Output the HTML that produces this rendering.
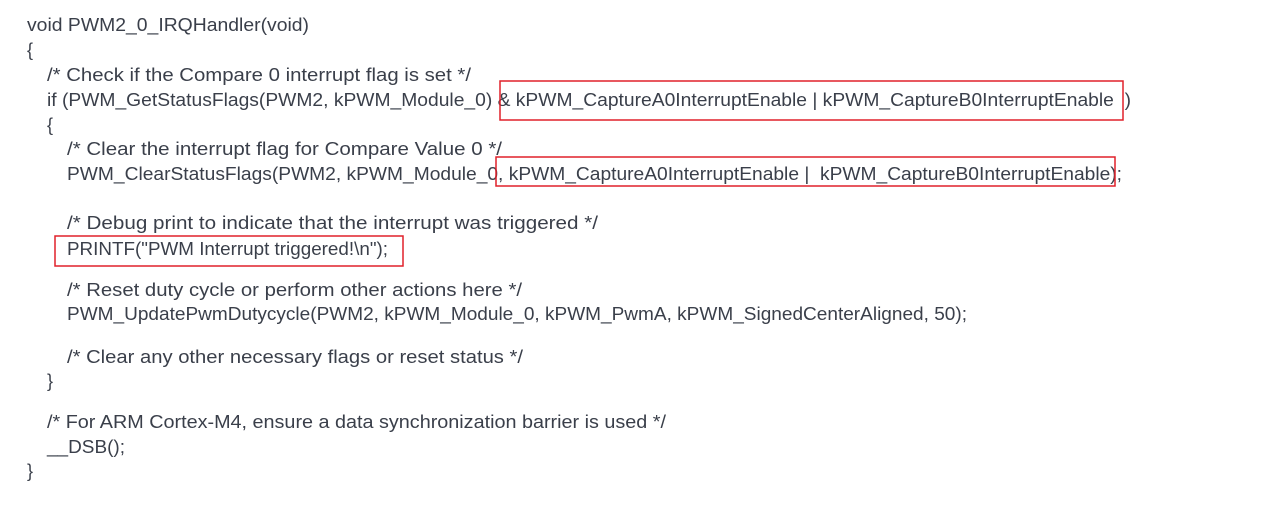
<!DOCTYPE html>
<html><head><meta charset="utf-8"><style>
html,body{margin:0;padding:0;background:#fff;}
svg{display:block;}
text{font-family:"Liberation Sans",sans-serif;font-size:18px;fill:#3a3f4a;white-space:pre;}
</style></head><body>
<svg width="1283" height="505" xmlns="http://www.w3.org/2000/svg">
<text x="27" y="31" textLength="282" lengthAdjust="spacingAndGlyphs">void PWM2_0_IRQHandler(void)</text>
<text x="27" y="56">{</text>
<text x="47" y="81" textLength="424" lengthAdjust="spacingAndGlyphs">/* Check if the Compare 0 interrupt flag is set */</text>
<text x="47" y="106" textLength="1084" lengthAdjust="spacingAndGlyphs">if (PWM_GetStatusFlags(PWM2, kPWM_Module_0) &amp; kPWM_CaptureA0InterruptEnable | kPWM_CaptureB0InterruptEnable  )</text>
<text x="47" y="131">{</text>
<text x="67" y="155" textLength="435" lengthAdjust="spacingAndGlyphs">/* Clear the interrupt flag for Compare Value 0 */</text>
<text x="67" y="180" textLength="1055" lengthAdjust="spacingAndGlyphs">PWM_ClearStatusFlags(PWM2, kPWM_Module_0, kPWM_CaptureA0InterruptEnable |  kPWM_CaptureB0InterruptEnable);</text>
<text x="67" y="229" textLength="531" lengthAdjust="spacingAndGlyphs">/* Debug print to indicate that the interrupt was triggered */</text>
<text x="67" y="255" textLength="321" lengthAdjust="spacingAndGlyphs">PRINTF("PWM Interrupt triggered!\n");</text>
<text x="67" y="296" textLength="455" lengthAdjust="spacingAndGlyphs">/* Reset duty cycle or perform other actions here */</text>
<text x="67" y="320" textLength="900" lengthAdjust="spacingAndGlyphs">PWM_UpdatePwmDutycycle(PWM2, kPWM_Module_0, kPWM_PwmA, kPWM_SignedCenterAligned, 50);</text>
<text x="67" y="363" textLength="456" lengthAdjust="spacingAndGlyphs">/* Clear any other necessary flags or reset status */</text>
<text x="47" y="387">}</text>
<text x="47" y="428" textLength="619" lengthAdjust="spacingAndGlyphs">/* For ARM Cortex-M4, ensure a data synchronization barrier is used */</text>
<text x="47" y="453" textLength="78" lengthAdjust="spacingAndGlyphs">__DSB();</text>
<text x="27" y="477">}</text>
<g fill="none" stroke="#e0202a" stroke-width="1.5">
<rect x="500" y="81" width="623" height="39"/>
<rect x="496" y="157" width="619" height="29"/>
<rect x="55" y="236" width="348" height="30"/>
</g>
</svg>
</body></html>
